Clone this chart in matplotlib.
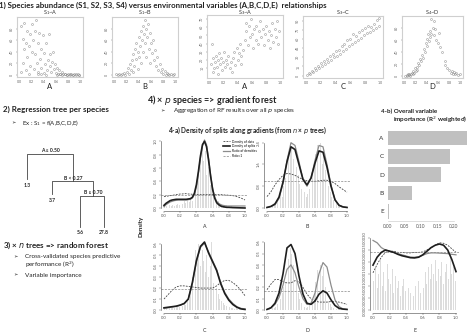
import numpy as np
import matplotlib
matplotlib.use("Agg")
import matplotlib.pyplot as plt

plt.rcParams['font.family'] = ['Lato', 'DejaVu Sans']

W, H = 474, 332

# ---- 1) scatter data (species abundance vs variable)
s1a_x = [0.02,0.03,0.05,0.05,0.07,0.08,0.1,0.1,0.12,0.13,0.15,0.15,0.17,0.18,0.2,0.2,0.22,0.23,0.25,0.25,
         0.27,0.28,0.3,0.3,0.32,0.33,0.35,0.36,0.38,0.4,0.4,0.42,0.43,0.45,0.46,0.48,0.5,0.5,0.52,0.53,
         0.55,0.56,0.58,0.6,0.62,0.63,0.65,0.67,0.7,0.72,0.75,0.78,0.8,0.82,0.85,0.88,0.9,0.92,0.95,0.98,
         0.61,0.66,0.69,0.74,0.77,0.83,0.87,0.93,0.97,0.3,0.35,0.44]
s1a_y = [85,5,62,20,45,90,55,8,75,30,50,2,70,15,40,88,60,10,35,75,
         95,20,55,5,72,28,45,12,68,3,38,18,55,8,25,70,15,35,5,22,
         40,10,18,3,12,2,8,1,4,1,2,0,1,0,1,0,1,0,1,0,
         0,1,0,1,0,1,0,1,0,2,1,0]
s1b_x = [0.02,0.05,0.08,0.1,0.12,0.15,0.18,0.2,0.22,0.23,0.25,0.27,0.28,0.3,0.3,0.32,0.33,0.35,0.36,0.38,
         0.38,0.4,0.4,0.42,0.43,0.44,0.45,0.46,0.47,0.48,0.5,0.5,0.52,0.52,0.54,0.55,0.56,0.58,0.58,0.6,
         0.62,0.63,0.65,0.66,0.68,0.7,0.72,0.74,0.76,0.78,0.8,0.82,0.84,0.86,0.88,0.9,0.93,0.96,0.98]
s1b_y = [1,0,2,0,1,3,0,5,12,2,18,8,25,35,5,15,45,28,55,40,
         10,65,30,50,75,20,60,85,40,70,95,55,80,30,65,88,45,72,20,55,
         38,60,25,42,15,30,8,18,5,10,2,6,0,3,1,0,2,0,1]
s3a_x = [0.02,0.03,0.04,0.05,0.06,0.08,0.09,0.1,0.11,0.12,0.13,0.15,0.16,0.18,0.19,0.2,0.22,0.23,0.25,0.26,
         0.28,0.3,0.31,0.33,0.35,0.36,0.38,0.4,0.41,0.43,0.44,0.45,0.47,0.5,0.51,0.52,0.54,0.55,0.57,0.58,
         0.6,0.61,0.63,0.65,0.66,0.68,0.7,0.72,0.73,0.75,0.77,0.78,0.8,0.82,0.84,0.85,0.87,0.89,0.9,0.92,
         0.94,0.95,0.97,0.98]
s3a_y = [15,40,5,22,10,18,25,12,3,20,28,15,22,8,18,30,12,20,15,25,
         10,18,5,22,30,14,35,20,28,40,15,25,32,45,65,55,38,62,48,70,
         52,35,58,45,62,40,55,68,48,58,38,52,62,45,55,35,50,65,42,58,
         48,68,40,55]
s3c_x = [0.02,0.04,0.06,0.08,0.1,0.12,0.14,0.16,0.18,0.2,0.22,0.24,0.26,0.28,0.3,0.32,0.34,0.36,0.38,0.4,
         0.42,0.44,0.46,0.48,0.5,0.52,0.54,0.56,0.58,0.6,0.62,0.64,0.66,0.68,0.7,0.72,0.74,0.76,0.78,0.8,
         0.82,0.84,0.86,0.88,0.9,0.92,0.94,0.96,0.98,0.99]
s3c_y = [1,4,3,8,6,12,9,15,12,20,16,24,19,28,22,32,26,35,30,40,
         33,42,36,48,40,52,44,58,48,60,52,68,55,65,58,72,62,75,66,78,
         70,82,72,80,75,85,78,92,82,95]
s4d_x = [0.02,0.04,0.05,0.06,0.08,0.09,0.1,0.12,0.13,0.15,0.16,0.18,0.19,0.2,0.22,0.23,0.25,0.26,0.28,0.3,
         0.31,0.33,0.35,0.36,0.38,0.4,0.41,0.42,0.44,0.45,0.46,0.47,0.48,0.5,0.52,0.53,0.55,0.57,0.6,0.62,
         0.64,0.66,0.72,0.73,0.75,0.8,0.82,0.84,0.86,0.88,0.9,0.92,0.95,0.98]
s4d_y = [0,1,0,2,1,3,0,2,5,3,8,5,12,8,15,10,22,18,28,25,
         35,30,45,40,55,50,62,70,58,75,65,95,70,80,92,68,78,60,55,72,
         48,40,25,18,12,10,5,8,3,6,2,4,1,2]

scatter_sets = [(s1a_x, s1a_y), (s1b_x, s1b_y), (s3a_x, s3a_y), (s3c_x, s3c_y), (s4d_x, s4d_y)]
scatter_titles = ["S$_1$~A", "S$_1$~B", "S$_3$~A", "S$_3$~C", "S$_4$~D"]
scatter_xlabels = ["A", "B", "A", "C", "D"]
scatter_yticks = [[0, 20, 40, 60, 80], [0, 20, 40, 60, 80], [10, 20, 30, 40, 50, 60, 70],
                  [0, 15, 30, 45, 60, 75, 90], [0, 20, 40, 60, 80]]
scatter_ylims = [(-4, 100), (-4, 100), (-2, 75), (-4, 98), (-4, 100)]

# ---- 2) regression tree
split_labels = ["A \u2265 0.50", "B < 0.27", "B \u2265 0.70"]
leaf_labels = ["1.3", "3.7", "5.6", "27.8"]

# ---- 4-a) density of splits (x grid 0..1 by 0.05, A on 0.025)
grid21 = np.linspace(0, 1, 21)
grid41 = np.linspace(0, 1, 41)
hist_x = (np.arange(50) + 0.5) / 50

a_splits = [0.04,0.07,0.09,0.11,0.12,0.125,0.13,0.13,0.13,0.13,0.13,0.13,0.135,0.14,0.16,0.22,0.35,0.55,0.78,0.95,
            1.0,0.92,0.72,0.48,0.28,0.15,0.08,0.05,0.03,0.02,0.015,0.01,0.01,0.008,0.006,0.005,0.004,0.003,0.002,0.001,0.0]
a_ratio = [0.02,0.05,0.07,0.09,0.1,0.11,0.115,0.12,0.12,0.12,0.12,0.12,0.125,0.13,0.15,0.2,0.32,0.52,0.75,0.93,
           1.02,0.95,0.75,0.5,0.3,0.17,0.1,0.07,0.05,0.04,0.035,0.03,0.03,0.03,0.03,0.03,0.03,0.03,0.03,0.03,0.03]
a_data = [0.17,0.175,0.18,0.185,0.19,0.195,0.2,0.205,0.21,0.21,0.215,0.215,0.21,0.21,0.205,0.205,0.2,0.2,0.2,0.2,
          0.2,0.2,0.2,0.2,0.2,0.2,0.2,0.2,0.2,0.2,0.195,0.195,0.19,0.19,0.185,0.18,0.17,0.16,0.15,0.135,0.12]
a_hist = [0.02,0.03,0.02,0.04,0.03,0.05,0.03,0.04,0.06,0.05,0.08,0.06,0.1,0.07,0.12,0.09,0.15,0.11,0.2,0.3,
          0.45,0.6,0.8,0.95,0.7,0.85,0.5,0.62,0.35,0.4,0.2,0.25,0.12,0.1,0.08,0.06,0.05,0.04,0.05,0.03,
          0.02,0.03,0.02,0.02,0.01,0.02,0.01,0.01,0.01,0.01]

b_splits = [0.02,0.06,0.15,0.4,0.95,1.7,2.25,2.15,1.6,1.05,0.85,1.1,1.65,2.1,2.05,1.5,0.8,0.3,0.1,0.04,0.02]
b_ratio = [0.02,0.05,0.12,0.35,0.9,1.75,2.4,2.3,1.7,1.05,0.8,1.1,1.75,2.3,2.25,1.6,0.85,0.3,0.1,0.04,0.02]
b_data = [0.42,0.6,0.85,1.05,1.2,1.27,1.25,1.2,1.12,1.05,1.0,0.98,0.98,1.0,1.02,1.02,0.98,0.9,0.78,0.68,0.58]
b_hist = [0.05,0.08,0.1,0.12,0.2,0.15,0.3,0.25,0.5,0.4,0.8,1.1,1.6,2.0,2.4,2.2,1.8,2.3,1.5,1.2,
          0.9,0.7,0.5,0.6,0.4,0.5,0.7,0.9,1.3,1.7,2.0,2.3,1.9,2.4,1.6,2.1,1.4,1.1,0.8,0.6,
          0.4,0.3,0.2,0.25,0.15,0.1,0.12,0.08,0.05,0.04]

c_splits = [0.02,0.025,0.03,0.035,0.045,0.06,0.1,0.25,0.45,0.58,0.62,0.52,0.44,0.36,0.24,0.15,0.09,0.05,0.025,0.01,0.005]
c_ratio = [0.015,0.02,0.028,0.033,0.043,0.058,0.1,0.24,0.44,0.57,0.61,0.53,0.45,0.37,0.25,0.16,0.1,0.06,0.03,0.015,0.01]
c_data = [0.1,0.14,0.18,0.21,0.22,0.22,0.215,0.21,0.205,0.2,0.2,0.2,0.2,0.22,0.25,0.27,0.27,0.25,0.22,0.18,0.13]
c_hist = [0.01,0.02,0.01,0.02,0.02,0.03,0.02,0.03,0.04,0.03,0.05,0.04,0.06,0.05,0.08,0.1,0.2,0.3,0.45,0.55,
          0.5,0.6,0.4,0.55,0.45,0.35,0.5,0.3,0.4,0.62,0.25,0.3,0.2,0.15,0.1,0.08,0.06,0.05,0.04,0.03,
          0.03,0.02,0.02,0.01,0.02,0.01,0.01,0.01,0.01,0.01]

d_splits = [0.005,0.02,0.06,0.15,0.32,0.55,0.58,0.5,0.3,0.14,0.06,0.05,0.08,0.14,0.17,0.15,0.09,0.04,0.015,0.008,0.005]
d_ratio = [0.005,0.02,0.05,0.11,0.22,0.36,0.4,0.33,0.2,0.1,0.05,0.06,0.15,0.32,0.42,0.38,0.22,0.09,0.03,0.01,0.005]
d_data = [0.18,0.23,0.27,0.27,0.25,0.24,0.24,0.26,0.25,0.2,0.14,0.1,0.08,0.07,0.07,0.07,0.075,0.075,0.07,0.06,0.05]
d_hist = [0.005,0.01,0.01,0.02,0.02,0.03,0.05,0.06,0.1,0.15,0.2,0.25,0.35,0.45,0.55,0.5,0.4,0.35,0.25,0.15,
          0.1,0.06,0.04,0.03,0.02,0.03,0.04,0.06,0.1,0.15,0.25,0.35,0.45,0.4,0.3,0.38,0.2,0.15,0.08,0.05,
          0.03,0.02,0.02,0.01,0.01,0.01,0.01,0.005,0.005,0.005]

e_splits = [0.00187,0.0022,0.0024,0.0025,0.00245,0.0024,0.00232,0.00226,0.00222,0.00218,0.00217,0.0022,0.0023,
            0.00245,0.0026,0.0027,0.00275,0.0027,0.0025,0.0021,0.0016]
e_ratio = [0.0029,0.0028,0.0026,0.0025,0.00245,0.0024,0.00235,0.0023,0.00225,0.0022,0.0022,0.00222,0.00228,
           0.00235,0.00238,0.00238,0.00237,0.00236,0.00235,0.00232,0.0023]
e_data = [0.00155,0.0019,0.0022,0.0024,0.00245,0.00245,0.0024,0.0024,0.00238,0.00238,0.0024,0.0024,0.00242,
          0.0025,0.0026,0.0027,0.0028,0.00278,0.0027,0.00255,0.0024]
e_hist = [0.0012,0.0018,0.0009,0.0015,0.0021,0.001,0.0016,0.0008,0.0019,0.0013,0.0011,0.0017,0.0007,0.0014,0.0009,
          0.0012,0.0006,0.001,0.0013,0.0008,0.0022,0.0009,0.0007,0.0011,0.0006,0.001,0.0008,0.0012,0.0007,0.0014,
          0.0009,0.0016,0.0011,0.0018,0.0013,0.0019,0.0015,0.0021,0.0012,0.0017,0.0014,0.002,0.0011,0.0016,0.0019,
          0.0013,0.0022,0.0015,0.0018,0.0012]

# ---- 4-b) overall importance
imp_vars = ["A", "C", "D", "B", "E"]
imp_vals = [0.24, 0.188, 0.16, 0.073, 0.003]

fig = plt.figure(figsize=(W / 100, H / 100), dpi=100)


def px_axes(l, t, r, b):
    return fig.add_axes([l / W, 1 - b / H, (r - l) / W, (b - t) / H])


def txt(x, y, s, **kw):
    kw.setdefault('va', 'center')
    fig.text(x / W, 1 - y / H, s, **kw)


# overlay for tree lines
over = fig.add_axes([0, 0, 1, 1])
over.set_xlim(0, W)
over.set_ylim(H, 0)
over.axis('off')

# ---------- section 1
txt(-1, 5, "1) Species abundance (S1, S2, S3, S4) versus environmental variables (A,B,C,D,E)  relationships",
    fontsize=5.7, fontweight='bold', color='#222')
boxes = [(17, 17, 83, 77), (112, 17, 178, 77), (207, 15, 283, 78), (303, 16, 383, 78), (402, 16, 463, 78)]
for (sx, sy), ttl, xl, yt, yl, (l, t, r, b) in zip(scatter_sets, scatter_titles, scatter_xlabels,
                                                   scatter_yticks, scatter_ylims, boxes):
    ax = px_axes(l, t, r, b)
    ax.plot(sx, sy, 'o', ms=1.4, mfc='none', mec='#8a8a8a', mew=0.35)
    ax.set_xlim(-0.04, 1.04)
    ax.set_ylim(*yl)
    ax.set_xticks([0, 0.2, 0.4, 0.6, 0.8, 1.0])
    ax.set_xticklabels(["0.0", "0.2", "0.4", "0.6", "0.8", "1.0"])
    ax.set_yticks(yt)
    ax.tick_params(labelsize=2.6, length=1, width=0.3, pad=1, colors='#666')
    for lab in ax.get_yticklabels():
        lab.set_rotation(90)
        lab.set_va('center')
    for sp in ax.spines.values():
        sp.set_color('#cfcfcf')
        sp.set_linewidth(0.8)
    txt((l + r) / 2, 13, ttl, fontsize=4, ha='center', color='#333')
    txt((l + r) / 2, 87, xl, fontsize=5.5, ha='center', color='#222')

# ---------- section 2: tree
txt(3, 109, "2) Regression tree per species", fontsize=5.8, fontweight='bold', color='#222')
txt(11, 123, "\u27a2", fontsize=3.8, color='#222')
txt(22, 123, "Ex : S$_1$ = f(A,B,C,D,E)", fontsize=4.4, color='#222')

split_x = [50, 73, 93]
split_y = [154, 181, 196]
leaf_x = [27, 52, 80, 104]
leaf_y = [179, 194, 227, 227]
# children of each split: (left, right) as ('l', i) leaf or ('s', i) split
children = [(('l', 0), ('s', 1)), (('l', 1), ('s', 2)), (('l', 2), ('l', 3))]
for i, (lab, x, y) in enumerate(zip(split_labels, split_x, split_y)):
    ends = []
    for kind, j in children[i]:
        if kind == 'l':
            ends.append((leaf_x[j], leaf_y[j]))
        else:
            ends.append((split_x[j], split_y[j]))
    over.plot([ends[0][0], ends[0][0], ends[1][0], ends[1][0]],
              [ends[0][1], y, y, ends[1][1]], color='#444', lw=0.6)
    txt(x, y - 3, lab, fontsize=3.6, fontweight='bold', ha='center', color='#222')
for lab, x, y in zip(leaf_labels, leaf_x, leaf_y):
    txt(x, y + 6, lab, fontsize=3.6, fontweight='bold', ha='center', color='#222')

# ---------- section 3
txt(3, 245, "3) \u00d7 $\\it{n}$ trees => random forest", fontsize=5.8, fontweight='bold', color='#222')
txt(13, 256.5, "\u27a2", fontsize=3.8, color='#222')
txt(25, 256.5, "Cross-validated species predictive", fontsize=4.6, color='#222')
txt(25, 264.5, "performance (R$^2$)", fontsize=4.6, color='#222')
txt(13, 275, "\u27a2", fontsize=3.8, color='#222')
txt(25, 275, "Variable importance", fontsize=4.6, color='#222')

# ---------- section 4
txt(147, 100, "4) \u00d7 $\\it{p}$ species => gradient forest", fontsize=6.5, fontweight='bold', color='#222')
txt(160, 110.5, "\u27a2", fontsize=3.8, color='#222')
txt(173, 110.5, "Aggregation of RF results over all $\\it{p}$ species", fontsize=4.6, color='#222')
txt(168, 130, "4-a) Density of splits along gradients (from $\\it{n}$ \u00d7 $\\it{p}$ trees)",
    fontsize=4.7, fontweight='bold', color='#222')
txt(141, 226, "Density", fontsize=4.4, fontweight='bold', rotation=90, ha='center', color='#222')

dens_panels = [
    ("A", grid41, a_splits, a_ratio, a_data, 0.2, a_hist, 1.02, [0, 0.2, 0.4, 0.6, 0.8, 1.0], "%.1f",
     (164, 245, 140, 208)),
    ("B", grid21, b_splits, b_ratio, b_data, 1.0, b_hist, 2.5, [0, 0.8, 1.6, 2.4], "%.1f",
     (267, 347, 140, 208)),
    ("C", grid21, c_splits, c_ratio, c_data, 0.195, c_hist, 0.62, [0, 0.1, 0.2, 0.3, 0.4, 0.5, 0.6], "%.1f",
     (164, 245, 242, 310)),
    ("D", grid21, d_splits, d_ratio, d_data, 0.165, d_hist, 0.62, [0, 0.1, 0.2, 0.3, 0.4, 0.5, 0.6], "%.1f",
     (267, 347, 240, 310)),
    ("E", grid21, e_splits, e_ratio, e_data, 0.0024, e_hist, 0.003,
     [0, 0.0005, 0.001, 0.0015, 0.002, 0.0025, 0.003], "%.4f", (373, 456, 238, 310)),
]
for name, gx, spl, rat, dat, one, hh, ymax, yt, fmt, (x0, x1, yt_px, yb_px) in dens_panels:
    pw, ph = x1 - x0, yb_px - yt_px
    ax = px_axes(x0 - 0.04 * pw, yt_px - 0.04 * ph, x1 + 0.04 * pw, yb_px + 0.04 * ph)
    ax.set_xlim(-0.04, 1.04)
    ax.set_ylim(-0.04 * ymax, 1.04 * ymax)
    ax.bar(hist_x, hh, width=0.011, color='#dcdcdc', lw=0)
    l_data, = ax.plot(gx, dat, color='#444', lw=0.6, dashes=(2.2, 1.4))
    l_one = ax.axhline(one, color='#9a9a9a', lw=0.6, dashes=(2.5, 1.5))
    l_rat, = ax.plot(gx, rat, color='#8c8c8c', lw=0.9)
    l_spl, = ax.plot(gx, spl, color='#1e1e1e', lw=1.2)
    ax.set_xticks([0, 0.2, 0.4, 0.6, 0.8, 1.0])
    ax.set_xticklabels(["0.0", "0.2", "0.4", "0.6", "0.8", "1.0"])
    ax.set_yticks(yt)
    ax.set_yticklabels([fmt % v for v in yt])
    ax.tick_params(labelsize=2.9, length=1.2, width=0.3, pad=1, colors='#555')
    for lab in ax.get_yticklabels():
        lab.set_rotation(90)
        lab.set_va('center')
    ax.spines['top'].set_visible(False)
    ax.spines['right'].set_visible(False)
    ax.spines['left'].set_bounds(yt[0], yt[-1])
    ax.spines['bottom'].set_bounds(0, 1)
    for s in ('left', 'bottom'):
        ax.spines[s].set_linewidth(0.4)
        ax.spines[s].set_color('#444')
    ax.patch.set_alpha(0)
    lx = (x0 + x1) / 2
    txt(lx, yb_px + 18 if name in "AB" else 330, name, fontsize=3.8, ha='center', color='#333')
    if name == "A":
        leg = ax.legend([l_data, l_spl, l_rat, l_one],
                        ["Density of data", "Density of splits", "Ratio of densities", "Ratio=1"],
                        loc='upper left', bbox_to_anchor=((221 - (x0 - 0.04 * pw)) / (1.08 * pw), 1.0),
                        fontsize=2.3, frameon=False, handlelength=2.2, handletextpad=0.6,
                        labelspacing=0.25, borderpad=0.2)

# ---------- 4-b
txt(381, 111.5, "4-b) Overall variable", fontsize=4.5, fontweight='bold', color='#222')
txt(393, 120, "importance (R$^2$ weighted)", fontsize=4.6, fontweight='bold', color='#222')
bx = px_axes(388, 129, 470.5, 220.5)
ypos = np.arange(len(imp_vars))
bx.barh(ypos, imp_vals, height=0.8, color='#c0c0c0', lw=0)
bx.set_ylim(len(imp_vars) - 0.5, -0.5)
bx.set_xlim(0, 0.25)
bx.set_yticks(ypos)
bx.set_yticklabels(imp_vars)
bx.set_xticks([0, 0.05, 0.1, 0.15, 0.2])
bx.set_xticklabels(["0.00", "0.05", "0.10", "0.15", "0.20"])
bx.tick_params(axis='y', length=0, pad=3, labelsize=4.6, colors='#333')
bx.tick_params(axis='x', length=0, pad=2.5, labelsize=3.4, colors='#555')
for s in ('top', 'right', 'left'):
    bx.spines[s].set_visible(False)
bx.spines['bottom'].set_bounds(0, 0.2)
bx.spines['bottom'].set_color('#d0d0d0')
bx.spines['bottom'].set_linewidth(0.5)
bx.patch.set_alpha(0)

fig.savefig("out.png", dpi=100)
